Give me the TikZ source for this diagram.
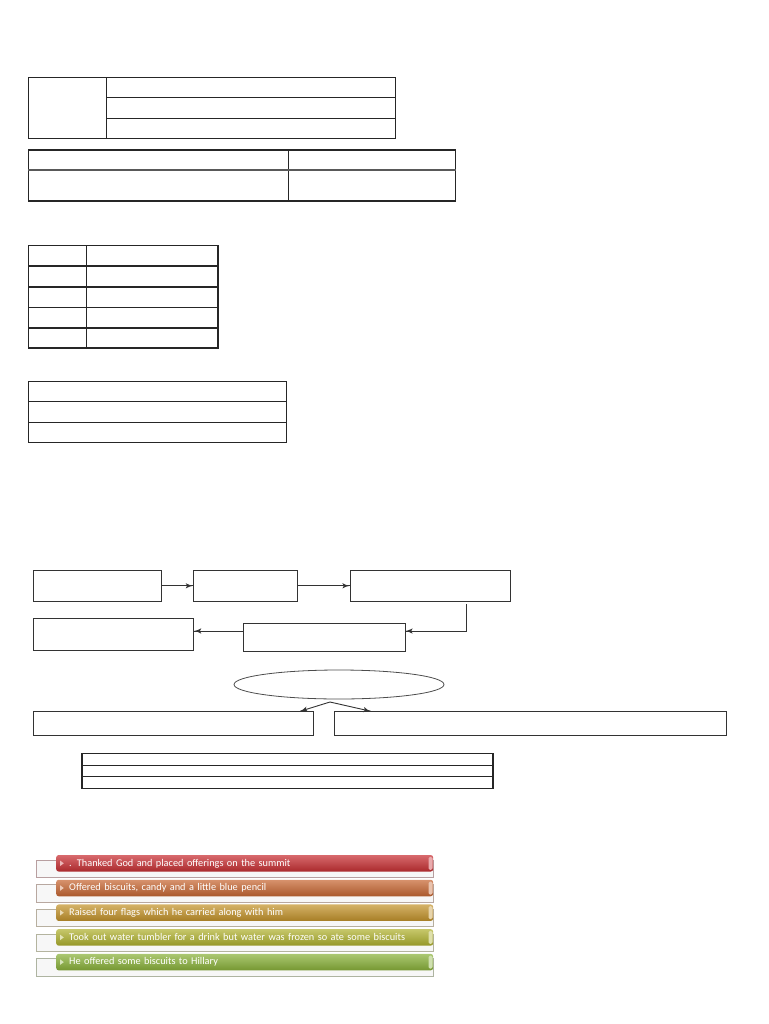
\documentclass[tikz,border=0pt]{standalone}
\usepackage{fontspec}
\newfontfamily\carlito{Carlito}
\usetikzlibrary{arrows}
\usetikzlibrary{decorations.markings}
\usetikzlibrary{shapes.geometric}
\definecolor{barred}{RGB}{200,48,52}
\definecolor{barorange}{RGB}{200,104,52}
\definecolor{bargold}{RGB}{196,148,44}
\definecolor{barolive}{RGB}{176,178,48}
\definecolor{bargreen}{RGB}{138,178,58}
\tikzset{->/.style = {decoration={markings,
                                  mark=at position 1 with {\arrow[scale=1.3]{latex'}}},
                      postaction={decorate}}}
\tikzset{grid/.style = {line width=1.1pt, draw=black!85}}
\tikzset{flowbox/.style = {draw=black!80, line width=0.9pt, minimum height=31.7pt, inner sep=0}}
\tikzset{link/.style = {line width=0.9pt, draw=black!80}}
\tikzset{bar/.style = {rounded corners=2.5pt, minimum height=16.5pt, inner xsep=13pt, inner ysep=0,
                       anchor=west, text=white, text width=351pt, align=left,
                       font=\carlito\fontsize{10.3}{11}\selectfont}}

\begin{document}
\begin{tikzpicture}[x=1pt, y=-1pt]
      \useasboundingbox (0,0) rectangle (768,1024);
      % table 1
      \draw [grid] (28.3,77.3) rectangle (395.7,138.3);
      \draw [grid] (106.7,77.3) -- (106.7,138.3);
      \draw [grid] (106.7,97.3) -- (395.7,97.3) (106.7,118.3) -- (395.7,118.3);
      % table 2
      \draw [grid] (28.3,150) rectangle (455.7,201);
      \draw [grid] (288.3,150) -- (288.3,201);
      \draw [grid, draw=black!65, line width=1.6pt] (28.3,170.3) -- (455.7,170.3);
      % table 3
      \draw [grid] (28.3,245.7) rectangle (218,348);
      \draw [grid] (86.3,245.7) -- (86.3,348);
      \foreach \y in {266,287,307.7,328}
        \draw [grid] (28.3,\y) -- (218,\y);
      % table 4
      \draw [grid] (28.3,381.7) rectangle (286.7,442.3);
      \draw [grid] (28.3,401.7) -- (286.7,401.7) (28.3,422.7) -- (286.7,422.7);

      % flow chart
      \node [flowbox, minimum width=128.4pt] (stageA) at (97.5,585.8) {};
      \node [flowbox, minimum width=104pt] (stageB) at (245.3,585.8) {};
      \node [flowbox, minimum width=160pt] (stageC) at (430,585.8) {};
      \node [flowbox, minimum width=161.7pt, minimum height=27.7pt] (stageE) at (324.2,637.2) {};
      \node [flowbox, minimum width=160.4pt] (stageD) at (113.5,634.2) {};
      \coordinate (bend) at (466.7,631);
      \draw [link, ->] (stageA) -- (stageB);
      \draw [link, ->] (stageB) -- (stageC);
      \draw [link, ->] ([yshift=-2pt]stageC.south -| bend) -- (bend) -- (bend -| stageE.east);
      \draw [link, ->] (stageE.west |- bend) -- (stageD.east |- bend);

      % ellipse and two boxes
      \node [draw=black!70, line width=0.8pt, ellipse, minimum width=210pt, minimum height=29pt] (topic) at (339,684.5) {};
      \node [flowbox, minimum width=280pt, minimum height=23.3pt] (left) at (173.8,723.3) {};
      \node [flowbox, minimum width=391.5pt, minimum height=23.3pt] (right) at (530.2,723.3) {};
      \coordinate (split) at (330,702);
      \draw [link, ->] (split) -- ([xshift=-14pt]left.north east);
      \draw [link, ->] (split) -- ([xshift=36.5pt]right.north west);

      % table 5
      \draw [grid] (82,753.3) rectangle (493,788.3);
      \draw [grid] (82,765.7) -- (493,765.7) (82,776.7) -- (493,776.7);

      % list of events
      \foreach \i/\col/\txt in {0/barred/{. Thanked God and placed offerings on the summit},
                                1/barorange/{Offered biscuits, candy and a little blue pencil},
                                2/bargold/{Raised four flags which he carried along with him},
                                3/barolive/{Took out water tumbler for a drink but water was frozen so ate some biscuits},
                                4/bargreen/{He offered some biscuits to Hillary}} {
        \pgfmathsetmacro\yy{863.3+24.7*\i}
        \draw [draw=\col!25!gray!65, fill=gray!6, line width=0.8pt] (36.7,{\yy-3.3}) rectangle (433,{\yy+14});
        \node [bar, top color=\col!72!white, bottom color=\col!85!black] (bar\i) at (56,\yy) {\txt};
        \fill [\col!35!white] (60,{\yy-2.8}) -- (63.8,\yy) -- (60,{\yy+2.8}) -- cycle;
        \fill [\col!40!white, rounded corners=1.5pt] (428.5,{\yy-6.5}) rectangle (432.5,{\yy+6.5});
      }
    \end{tikzpicture}
\end{document}
